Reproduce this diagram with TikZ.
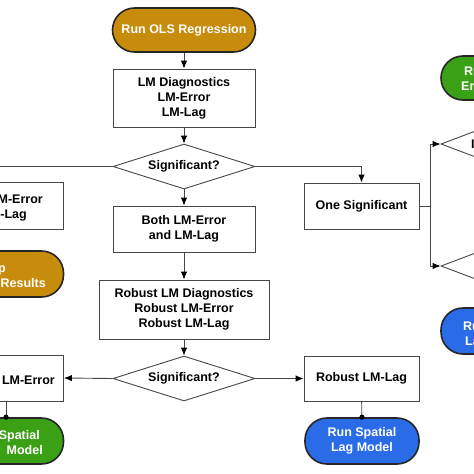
\documentclass[tikz,border=0pt]{standalone}
\usepackage{fontspec}
\setmainfont{Liberation Sans}
\usetikzlibrary{shapes.geometric,arrows.meta,positioning}

\definecolor{olsgold}{RGB}{200,140,12}
\definecolor{errgreen}{RGB}{58,160,22}
\definecolor{lagblue}{RGB}{42,108,232}
\definecolor{linegray}{RGB}{70,70,70}

\tikzstyle{box}=[draw=linegray,line width=0.9pt,fill=white,align=center,inner sep=2pt]
\tikzstyle{terminal}=[draw=black!85,line width=1.6pt,rounded corners=22pt,align=center,text=white,minimum height=45pt,inner sep=2pt]
\tikzstyle{decision}=[diamond,aspect=3.2,draw=linegray,line width=0.9pt,fill=white,align=center,inner sep=0pt,minimum width=142pt,minimum height=45pt]
\tikzstyle{edge}=[draw=linegray,line width=0.9pt,-{Latex[length=8pt,width=6.5pt,color=black]}]
\tikzstyle{link}=[draw=linegray,line width=0.9pt]
\tikzstyle{cuttext}=[inner sep=0pt]

\begin{document}
\begin{tikzpicture}[x=1pt,y=-1pt,font=\fontsize{12.5}{15}\selectfont\bfseries]
\useasboundingbox (0,0) rectangle (474,474);
\clip (0,0) rectangle (474,474);

    % main column
    \node[terminal,fill=olsgold,minimum width=143pt,minimum height=44pt] (ols) at (184,30) {Run OLS Regression};
    \node[box,minimum width=142pt,minimum height=58pt] (lmdiag) at (184,98) {LM Diagnostics\\LM-Error\\LM-Lag};
    \node[decision] (sig1) at (184,166.5) {Significant?};
    \node[box,minimum width=142pt,minimum height=46pt] (both) at (184,229) {Both LM-Error\\and LM-Lag};
    \node[box,minimum width=170pt,minimum height=59pt] (robust) at (184,309.5) {Robust LM Diagnostics\\Robust LM-Error\\Robust LM-Lag};
    \node[decision] (sig2) at (184,378.5) {Significant?};

    % second column
    \node[box,minimum width=115pt,minimum height=46pt] (one) at (361.5,206) {One Significant};
    \node[box,minimum width=115pt,minimum height=45pt] (lag) at (361.5,378.5) {Robust LM-Lag};
    \node[terminal,fill=lagblue,minimum width=114pt,minimum height=46pt] (lagmodel) at (362,441) {Run Spatial\\Lag Model};

    % left column, cut by the margin
    \node[box,minimum width=115pt,minimum height=47pt] (neither) at (6,205.5) {};
    \node[terminal,fill=olsgold,minimum width=115pt,minimum height=46pt] (stop) at (6,274) {};
    \node[box,minimum width=115pt,minimum height=46pt] (lmerr) at (6,378) {};
    \node[terminal,fill=errgreen,minimum width=115pt,minimum height=46pt] (errmodel) at (6,441) {};

    % right column, cut by the margin
    \node[terminal,fill=errgreen,minimum width=115pt,minimum height=44pt] (errmodelR) at (498.5,78) {};
    \node[decision,aspect=2.5,minimum height=54pt] (errtest) at (512,144) {};
    \node[decision,aspect=2.5,minimum height=54pt] (lagtest) at (512,266) {};
    \node[terminal,fill=lagblue,minimum width=115pt,minimum height=46pt] (lagmodelR) at (498.5,331) {};

    % what is left of their texts
    \foreach \name/\pos/\anc/\col/\txt in {{nM/(43,203)/base east/black/M-Error}, {nL/(27,218)/base east/black/-Lag},
        {sP/(6,272)/base east/white/p}, {sR/(46,287)/base east/white/Results}, {eE/(55,384)/base east/black/LM-Error},
        {mS/(40,439)/base east/white/Spatial}, {mM/(43,454)/base east/white/Model},
        {rR/(464,75)/base west/white/Ru}, {rE/(461,90)/base west/white/Er}, {dI/(471,148)/base west/black/I},
        {bR/(463,330)/base west/white/Ru}, {bL/(465,345)/base west/white/La}}
        \node[cuttext,anchor=\anc,text=\col] (\name) at \pos {\txt};

    % connect the steps
    \foreach \source/\dest in {ols/lmdiag, lmdiag/sig1, sig1/both, both/robust, robust/sig2}
        \path[edge] (\source) -- (\dest);
    \path[edge] (sig1.east) -| (one.north);
    \path[edge] (sig2.west) -- (lmerr.east);
    \path[edge] (sig2.east) -- (lag.west);
    \coordinate (offleft) at (-10,166.5);
    \path[link] (sig1.west) -- (offleft);
    \coordinate (fork) at (430,206);
    \path[link] (one.east) -- (fork);
    \path[edge] (fork) |- (errtest.west);
    \path[edge] (fork) |- (lagtest.west);

    % result ends
    \path[link] (lmerr) -- (errmodel);
    \path[link] (lag) -- (lagmodel);
    \fill (errmodel.north) circle (2.6pt);
    \fill (lagmodel.north) circle (2.6pt);

\end{tikzpicture}
\end{document}
